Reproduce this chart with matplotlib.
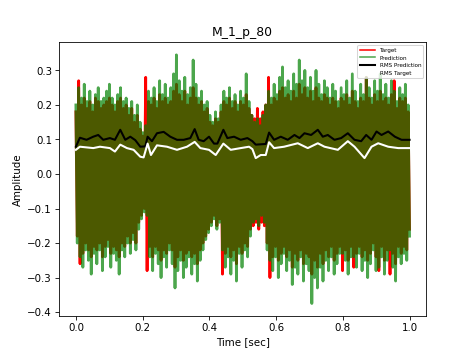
import numpy as np
import matplotlib
matplotlib.use("Agg")
import matplotlib.pyplot as plt

# peak envelopes (120 peaks over 0..1 s)
pred_hi = [0.20, 0.25, 0.22, 0.26, 0.21, 0.24, 0.20, 0.23, 0.25, 0.21, 0.22, 0.24,
           0.26, 0.22, 0.20, 0.23, 0.25, 0.21, 0.22, 0.19, 0.21, 0.17, 0.20, 0.15,
           0.12, 0.14, 0.24, 0.22, 0.25, 0.21,
           0.27, 0.23, 0.26, 0.22, 0.25, 0.29, 0.345, 0.27, 0.24, 0.28, 0.23, 0.25,
           0.33, 0.26, 0.22, 0.24, 0.20, 0.21,
           0.17, 0.15, 0.18, 0.16, 0.20, 0.24,
           0.22, 0.25, 0.21, 0.23, 0.20, 0.24, 0.22, 0.29,
           0.21, 0.17, 0.15, 0.16, 0.14, 0.17,
           0.20, 0.24, 0.22, 0.26,
           0.23, 0.28, 0.31, 0.25, 0.27, 0.24, 0.29, 0.26, 0.33, 0.27, 0.30, 0.25,
           0.28, 0.24, 0.30, 0.26, 0.23, 0.27, 0.25, 0.22, 0.26, 0.24, 0.21, 0.25,
           0.23, 0.27, 0.22, 0.29, 0.24, 0.21, 0.26, 0.23, 0.28, 0.25, 0.22, 0.27,
           0.24, 0.29, 0.23, 0.26, 0.22, 0.27, 0.24, 0.21, 0.25, 0.23, 0.26, 0.20]
pred_lo = [-0.20, -0.24, -0.27, -0.22, -0.25, -0.29, -0.23, -0.26, -0.22, -0.28, -0.24, -0.21,
           -0.27, -0.23, -0.25, -0.29, -0.22, -0.24, -0.20, -0.23, -0.19, -0.22, -0.16, -0.13,
           -0.11, -0.12, -0.24, -0.28, -0.23, -0.26,
           -0.30, -0.24, -0.27, -0.22, -0.26, -0.33, -0.28, -0.25, -0.30, -0.27, -0.24, -0.29,
           -0.26, -0.31, -0.25, -0.22, -0.19, -0.17,
           -0.15, -0.13, -0.16, -0.14, -0.22, -0.27,
           -0.24, -0.29, -0.25, -0.31, -0.23, -0.27, -0.22, -0.24,
           -0.18, -0.14, -0.13, -0.15, -0.12, -0.14,
           -0.22, -0.25, -0.28, -0.24,
           -0.30, -0.26, -0.23, -0.28, -0.25, -0.32, -0.27, -0.29, -0.24, -0.31, -0.26, -0.28,
           -0.375, -0.30, -0.33, -0.27, -0.31, -0.25, -0.28, -0.24, -0.29, -0.26, -0.23, -0.23,
           -0.25, -0.29, -0.24, -0.24, -0.27, -0.23, -0.28, -0.25, -0.30, -0.26, -0.22, -0.28,
           -0.27, -0.24, -0.29, -0.25, -0.22, -0.27, -0.31, -0.24, -0.26, -0.23, -0.25, -0.18]
targ_hi = [0.18, 0.27, 0.20, 0.22, 0.19, 0.21, 0.18, 0.22, 0.21, 0.19, 0.20, 0.21,
           0.22, 0.20, 0.18, 0.21, 0.22, 0.19, 0.20, 0.17, 0.19, 0.15, 0.17, 0.13,
           0.11, 0.28, 0.21, 0.20, 0.22, 0.19,
           0.23, 0.21, 0.22, 0.20, 0.21, 0.24, 0.26, 0.23, 0.21, 0.24, 0.20, 0.22,
           0.25, 0.22, 0.20, 0.21, 0.18, 0.19,
           0.15, 0.14, 0.16, 0.15, 0.18, 0.21,
           0.20, 0.22, 0.19, 0.21, 0.18, 0.21, 0.20, 0.23,
           0.19, 0.17, 0.16, 0.19, 0.16, 0.18,
           0.20, 0.28, 0.20, 0.22,
           0.21, 0.24, 0.25, 0.22, 0.23, 0.21, 0.24, 0.22, 0.26, 0.23, 0.25, 0.22,
           0.24, 0.21, 0.25, 0.22, 0.21, 0.23, 0.22, 0.20, 0.22, 0.21, 0.19, 0.22,
           0.21, 0.23, 0.20, 0.24, 0.21, 0.19, 0.22, 0.21, 0.28, 0.22, 0.20, 0.23,
           0.21, 0.24, 0.21, 0.22, 0.20, 0.23, 0.27, 0.19, 0.22, 0.21, 0.22, 0.18]
targ_lo = [-0.18, -0.26, -0.23, -0.20, -0.22, -0.24, -0.21, -0.22, -0.20, -0.24, -0.21, -0.19,
           -0.23, -0.21, -0.22, -0.24, -0.20, -0.21, -0.18, -0.20, -0.17, -0.20, -0.14, -0.12,
           -0.10, -0.28, -0.21, -0.24, -0.21, -0.22,
           -0.25, -0.22, -0.23, -0.20, -0.22, -0.27, -0.24, -0.22, -0.25, -0.23, -0.22, -0.24,
           -0.23, -0.26, -0.22, -0.20, -0.18, -0.16,
           -0.14, -0.12, -0.15, -0.13, -0.29, -0.23,
           -0.21, -0.24, -0.22, -0.26, -0.21, -0.23, -0.20, -0.21,
           -0.16, -0.15, -0.14, -0.16, -0.14, -0.15,
           -0.20, -0.30, -0.24, -0.21,
           -0.25, -0.23, -0.21, -0.24, -0.22, -0.27, -0.23, -0.25, -0.22, -0.26, -0.23, -0.24,
           -0.29, -0.25, -0.27, -0.23, -0.26, -0.22, -0.24, -0.21, -0.25, -0.23, -0.21, -0.28,
           -0.22, -0.25, -0.21, -0.27, -0.23, -0.21, -0.24, -0.22, -0.25, -0.23, -0.20, -0.24,
           -0.28, -0.21, -0.25, -0.22, -0.29, -0.23, -0.26, -0.21, -0.23, -0.21, -0.22, -0.16]

# RMS curves
rms_pred_t = [0.000, 0.012, 0.032, 0.052, 0.067, 0.082, 0.102, 0.117, 0.133, 0.148,
              0.163, 0.178, 0.193, 0.208, 0.215, 0.228, 0.243, 0.263, 0.283, 0.303,
              0.323, 0.343, 0.356, 0.368, 0.383, 0.399, 0.414, 0.424, 0.442, 0.454,
              0.474, 0.494, 0.514, 0.529, 0.539, 0.554, 0.569, 0.579, 0.594, 0.614,
              0.635, 0.655, 0.670, 0.685, 0.705, 0.725, 0.740, 0.755, 0.775, 0.795,
              0.815, 0.835, 0.855, 0.870, 0.886, 0.901, 0.916, 0.936, 0.956, 0.976, 1.000]
rms_pred = [0.079, 0.105, 0.099, 0.108, 0.113, 0.099, 0.104, 0.099, 0.128, 0.099,
            0.108, 0.098, 0.079, 0.080, 0.108, 0.095, 0.118, 0.122, 0.108, 0.099,
            0.099, 0.104, 0.130, 0.099, 0.095, 0.108, 0.088, 0.088, 0.128, 0.104,
            0.108, 0.099, 0.104, 0.095, 0.085, 0.086, 0.087, 0.120, 0.099, 0.108,
            0.099, 0.113, 0.104, 0.118, 0.113, 0.128, 0.108, 0.113, 0.099, 0.104,
            0.118, 0.099, 0.095, 0.113, 0.099, 0.123, 0.113, 0.123, 0.108, 0.099, 0.099]
rms_targ_t = [0.000, 0.012, 0.052, 0.072, 0.102, 0.117, 0.133, 0.153, 0.173, 0.193,
              0.203, 0.215, 0.225, 0.243, 0.273, 0.303, 0.333, 0.356, 0.373, 0.399,
              0.419, 0.442, 0.464, 0.494, 0.519, 0.529, 0.539, 0.554, 0.569, 0.579,
              0.594, 0.624, 0.665, 0.695, 0.725, 0.745, 0.785, 0.815, 0.835, 0.865,
              0.886, 0.906, 0.936, 0.966, 1.000]
rms_targ = [0.070, 0.079, 0.075, 0.079, 0.075, 0.065, 0.085, 0.075, 0.070, 0.050,
            0.048, 0.088, 0.055, 0.083, 0.079, 0.070, 0.079, 0.093, 0.075, 0.070,
            0.055, 0.088, 0.070, 0.075, 0.079, 0.072, 0.046, 0.055, 0.055, 0.092,
            0.075, 0.079, 0.089, 0.075, 0.089, 0.079, 0.070, 0.095, 0.079, 0.046,
            0.079, 0.089, 0.079, 0.075, 0.075]

# alternate high/low peaks to get the dense waveform
def waveform(hi, lo):
    sig = np.empty(2 * len(hi))
    sig[0::2] = hi
    sig[1::2] = lo
    return sig

target = waveform(targ_hi, targ_lo)
prediction = waveform(pred_hi, pred_lo)
t = np.linspace(0, 1, len(target))

fig = plt.figure(figsize=(6.4, 4.8), dpi=74)
# thick strokes so the dense waveform renders as a solid band
plt.plot(t, target, color='r', linewidth=2.7, label="Target")
plt.plot(t, prediction, color='g', alpha=0.7, linewidth=2.7, label="Prediction")
plt.plot(rms_pred_t, rms_pred, color='k', linewidth=2, label="RMS Prediction")
plt.plot(rms_targ_t, rms_targ, color='w', linewidth=2, label="RMS Target")
plt.title("M_1_p_80")
plt.xlabel("Time [sec]")
plt.ylabel("Amplitude")
leg = plt.legend(loc="upper right", fontsize=5.5, handlelength=2.7)
for line in leg.get_lines()[:2]:
    line.set_linewidth(1.5)

plt.savefig("out.png", dpi=74)
